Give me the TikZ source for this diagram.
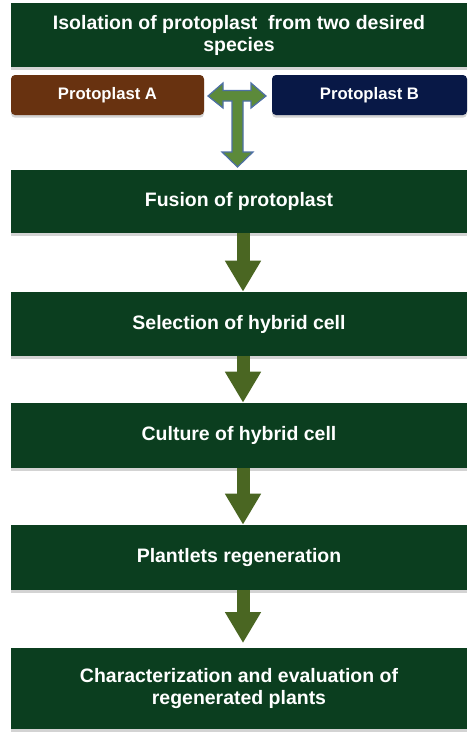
\documentclass[tikz,border=0pt]{standalone}
\usepackage{fontspec}
\setmainfont{Liberation Sans}
\usetikzlibrary{arrows.meta,shadows}
\definecolor{boxgreen}{RGB}{11,62,31}
\definecolor{protobrown}{RGB}{104,50,16}
\definecolor{protonavy}{RGB}{8,24,70}
\definecolor{arrowgreen}{RGB}{74,102,34}
\definecolor{tgreen}{RGB}{92,138,58}
\definecolor{tblue}{RGB}{78,112,165}
\begin{document}
\begin{tikzpicture}[x=0.75pt,y=-0.75pt,
		stage/.style={fill=boxgreen,text=white,font=\bfseries\fontsize{14.6}{16.5}\selectfont,align=center,minimum width=342pt,inner sep=0pt,drop shadow={shadow xshift=0pt,shadow yshift=-2pt,opacity=0.35}},
		proto/.style={rounded corners=3pt,text=white,font=\bfseries\fontsize{12.5}{14}\selectfont,minimum height=30pt,inner sep=0pt,drop shadow={shadow xshift=0pt,shadow yshift=-2pt,opacity=0.35}},
		flow/.style={draw=arrowgreen,line width=9.75pt,-{Triangle[length=23.25pt,width=25.5pt]}}]
		\useasboundingbox (0,0) rectangle (474,733);
		\node[stage,minimum height=48pt] (isolation) at (239,35) {Isolation of protoplast\ \ from two desired\\species};
		\node[proto,fill=protobrown,minimum width=144.75pt] (protoA) at (107.5,95) {Protoplast A};
		\node[proto,fill=protonavy,minimum width=146.25pt] (protoB) at (369.5,95) {Protoplast B};
		\node[stage,minimum height=47.25pt] (fusion) at (239,201.5) {Fusion of protoplast};
		\node[stage,minimum height=48pt] (selection) at (239,324) {Selection of hybrid cell};
		\node[stage,minimum height=48.75pt] (culture) at (239,435.5) {Culture of hybrid cell};
		\node[stage,minimum height=48.75pt] (plantlets) at (239,557.5) {Plantlets regeneration};
		\node[stage,minimum height=60.75pt] (characterization) at (239,688.5) {Characterization and evaluation of\\regenerated plants};
		% T-shaped arrow joining both protoplasts to fusion
		\filldraw[fill=tgreen,draw=tblue,line width=0.9pt,line join=miter] (208,96) -- (223,83) -- (223,90.5) -- (251,90.5) -- (251,83) -- (266,96) -- (251,108) -- (251,101) -- (243,101) -- (243,152) -- (253,152) -- (237.5,167) -- (222,152) -- (232,152) -- (232,101) -- (223,101) -- (223,108) -- cycle;
		\draw[flow] ([xshift=3pt]fusion.south) -- ([xshift=3pt]selection.north);
		\draw[flow] ([xshift=3pt]selection.south) -- ([xshift=3pt]culture.north);
		\draw[flow] ([xshift=3pt]culture.south) -- ([xshift=3pt]plantlets.north);
		\draw[flow] ([xshift=3pt]plantlets.south) -- ([xshift=3pt,yshift=3.5pt]characterization.north);
	\end{tikzpicture}
\end{document}
